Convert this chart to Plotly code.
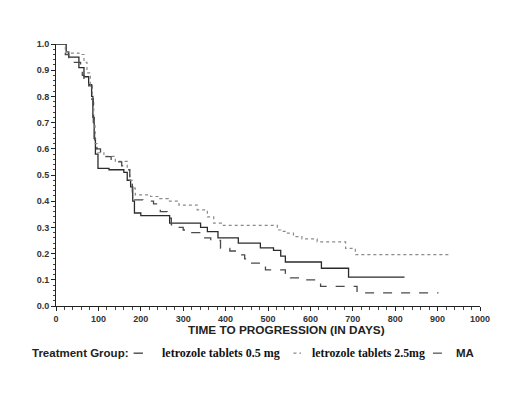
import plotly.graph_objects as go

# ---- data (step-function Kaplan-Meier estimates) ----
t_05 = [0, 24, 30, 54, 66, 77, 84, 87, 90, 93, 99, 125, 160, 168, 176, 181, 185, 200,
        268, 341, 357, 382, 430, 482, 513, 530, 541, 626, 690, 822]
s_05 = [1.0, 0.97, 0.95, 0.91, 0.875, 0.845, 0.80, 0.72, 0.64, 0.58, 0.525, 0.52, 0.51,
        0.48, 0.455, 0.40, 0.355, 0.345, 0.316, 0.30, 0.284, 0.26, 0.24, 0.222, 0.212,
        0.19, 0.168, 0.144, 0.11, 0.11]

t_25 = [0, 22, 34, 54, 66, 73, 81, 86, 89, 92, 97, 113, 140, 168, 174, 180, 187, 223,
        245, 265, 290, 333, 357, 372, 390, 522, 530, 544, 560, 580, 616, 683, 706, 930]
s_25 = [1.0, 0.97, 0.965, 0.96, 0.93, 0.89, 0.84, 0.78, 0.70, 0.62, 0.585, 0.571, 0.552,
        0.52, 0.48, 0.45, 0.424, 0.418, 0.41, 0.40, 0.385, 0.367, 0.34, 0.316, 0.308,
        0.29, 0.285, 0.278, 0.265, 0.256, 0.245, 0.22, 0.196, 0.196]

t_ma = [0, 22, 30, 34, 58, 62, 66, 77, 84, 88, 91, 96, 105, 130, 155, 168, 174, 180, 183,
        205, 230, 246, 262, 272, 280, 300, 320, 341, 365, 388, 410, 427, 445, 459, 494,
        541, 553, 580, 624, 710, 902]
s_ma = [1.0, 0.96, 0.948, 0.93, 0.91, 0.88, 0.86, 0.84, 0.79, 0.70, 0.62, 0.60, 0.57,
        0.55, 0.535, 0.52, 0.48, 0.43, 0.405, 0.40, 0.39, 0.36, 0.335, 0.31, 0.30, 0.29,
        0.28, 0.26, 0.25, 0.22, 0.21, 0.195, 0.18, 0.164, 0.138, 0.125, 0.107, 0.10,
        0.075, 0.05, 0.05]

x_ticks = [0, 100, 200, 300, 400, 500, 600, 700, 800, 900, 1000]
y_ticks = [0.0, 0.1, 0.2, 0.3, 0.4, 0.5, 0.6, 0.7, 0.8, 0.9, 1.0]

series = [
    ("letrozole tablets 0.5 mg", t_05, s_05, dict(color="#2b2b2b", width=1.3, dash="solid")),
    ("letrozole tablets 2.5mg", t_25, s_25, dict(color="#8a8a8a", width=1.2, dash="dot")),
    ("MA", t_ma, s_ma, dict(color="#4a4a4a", width=1.3, dash="dash")),
]

fig = go.Figure()
for name, t, s, ln in series:
    fig.add_trace(go.Scatter(x=t, y=s, mode="lines", name=name, line=dict(shape="hv", **ln),
                             showlegend=False))

tickfont = dict(family="Liberation Sans, Arial", size=9, color="#333", weight="bold")
fig.update_layout(
    width=527, height=397,
    margin=dict(l=56, r=47, t=44, b=91),
    paper_bgcolor="white", plot_bgcolor="white",
    xaxis=dict(range=[0, 1000], tickvals=x_ticks, ticktext=[str(v) for v in x_ticks],
               showgrid=False, zeroline=False, showline=True, linecolor="#222", linewidth=1,
               ticks="outside", ticklen=4, tickcolor="#222", tickfont=tickfont,
               minor=dict(dtick=20, ticks="outside", ticklen=2.5, tickcolor="#444")),
    yaxis=dict(range=[0, 1.0], tickvals=y_ticks, ticktext=[f"{v:.1f}" for v in y_ticks],
               showgrid=False, zeroline=False, showline=True, linecolor="#222", linewidth=1,
               ticks="outside", ticklen=4, tickcolor="#222", tickfont=tickfont,
               minor=dict(dtick=0.02, ticks="outside", ticklen=2.5, tickcolor="#444")),
)

sans_b = dict(family="Liberation Sans, Arial", size=11.5, color="#222", weight="bold")
serif_b = dict(family="Liberation Serif, Times New Roman", size=12, color="#111", weight="bold")

fig.add_annotation(text="TIME TO PROGRESSION (IN DAYS)", xref="paper", yref="paper",
                   x=0.543, y=-0.092, showarrow=False, xanchor="center", yanchor="middle",
                   font=dict(family="Liberation Sans, Arial", size=11.8, color="#222", weight="bold"))

ly = -0.18
fig.add_annotation(text="Treatment Group:", xref="paper", yref="paper", x=-0.062, y=ly,
                   xanchor="left", yanchor="middle", showarrow=False, font=sans_b)
fig.add_annotation(text="letrozole tablets 0.5 mg", xref="paper", yref="paper", x=0.245, y=ly,
                   xanchor="left", yanchor="middle", showarrow=False, font=serif_b)
fig.add_annotation(text="letrozole tablets 2.5mg", xref="paper", yref="paper", x=0.6, y=ly,
                   xanchor="left", yanchor="middle", showarrow=False,
                   font=dict(serif_b, size=11.8))
fig.add_annotation(text="MA", xref="paper", yref="paper", x=0.938, y=ly,
                   xanchor="left", yanchor="middle", showarrow=False, font=sans_b)

for (x0, x1), (_, _, _, ln) in zip([(0.183, 0.205), (0.56, 0.578), (0.889, 0.922)], series):
    fig.add_shape(type="line", xref="paper", yref="paper", x0=x0, x1=x1, y0=ly, y1=ly,
                  line=dict(color=ln["color"], width=1.2, dash=ln["dash"]))

fig.write_html("out.html", config={"displayModeBar": False},
               post_script="document.body.style.margin='0';document.body.style.padding='0';")
